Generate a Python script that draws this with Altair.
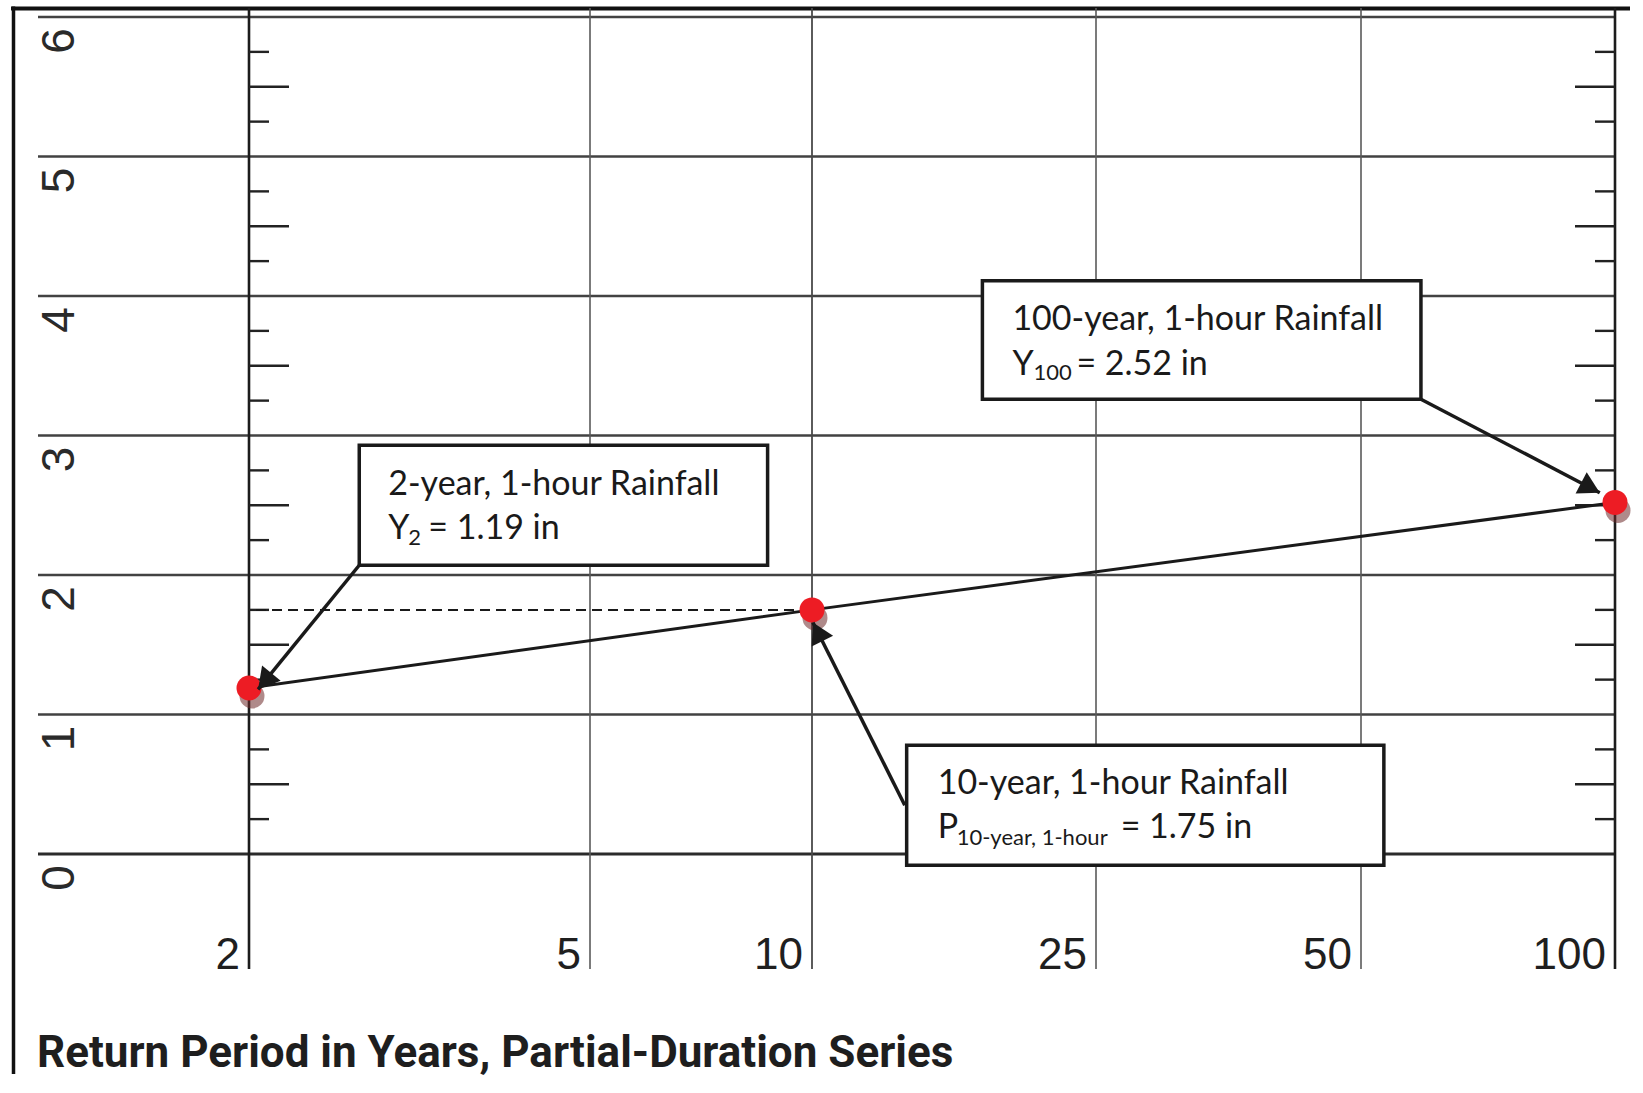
import math

import altair as alt
import numpy as np
import pandas as pd

# ---------------------------------------------------------------------------
# Data: 1-hour rainfall depth (in) for three return periods (years)
# ---------------------------------------------------------------------------
RETURN_PERIODS = [2, 10, 100]
RAINFALL_IN = [1.19, 1.75, 2.52]

# Grid of the partial-duration probability paper
GRID_PERIODS = [2, 5, 10, 25, 50, 100]
GRID_LABELS = ["2", "5", "10", "25", "50", "100"]
GRID_DEPTHS = [0, 1, 2, 3, 4, 5, 6]
DEPTH_LABELS = ["0", "1", "2", "3", "4", "5", "6"]
MINOR_SHORT = [u + f for u in range(6) for f in (0.25, 0.75)]
MINOR_LONG = [u + 0.5 for u in range(6)]

AXIS_TITLE = "Return Period in Years, Partial-Duration Series"

# ---------------------------------------------------------------------------
# Plot geometry: the return-period axis of the paper is non-uniform, so the
# x scale is piecewise linear through the printed grid lines.
# ---------------------------------------------------------------------------
W, H = 1577, 837
X_RANGE = [211, 552, 774, 1058, 1323, 1577]

xs = alt.Scale(type="linear", domain=GRID_PERIODS, range=X_RANGE, nice=False, zero=False)
ys = alt.Scale(type="linear", domain=[0, 6], range=[H, 0], nice=False, zero=False)


def X(field):
    return alt.X(field, type="quantitative", scale=xs, axis=None)


def Y(field):
    return alt.Y(field, type="quantitative", scale=ys, axis=None)


def to_px(t, p):
    return float(np.interp(t, GRID_PERIODS, X_RANGE)), H - p * H / 6.0


INK = "#1a1a1a"
LABEL_FONT = "Lato"
ONE = pd.DataFrame({"k": [0]})

# ---------------------------------------------------------------------------
# Callouts (box corners and arrow ends in data units)
# ---------------------------------------------------------------------------
CALLOUTS = [
    dict(x0=2.97, x1=9.0, y0=2.07, y1=2.93,
         title="2-year, 1-hour Rainfall", sym="Y", sub="2",
         value=f"= {RAINFALL_IN[0]:.2f} in",
         tail=(2.97, 2.07), tip=(2.08, 1.18),
         dx=(29, 49, 69), dy=(50, 94, 100)),
    dict(x0=19.0, x1=61.8, y0=3.26, y1=4.11,
         title="100-year, 1-hour Rainfall", sym="Y", sub="100",
         value=f"= {RAINFALL_IN[2]:.2f} in",
         tail=(61.8, 3.26), tip=(97.0, 2.59),
         dx=(30, 51, 94), dy=(49, 94, 99)),
    dict(x0=15.0, x1=54.5, y0=-0.08, y1=0.78,
         title="10-year, 1-hour Rainfall", sym="P", sub="10-year, 1-hour",
         value=f"= {RAINFALL_IN[1]:.2f} in",
         tail=(14.9, 0.35), tip=(10.05, 1.66),
         dx=(31, 50, 214), dy=(49, 93, 100)),
]

layers = []

# Page frame of the scanned sheet
layers.append(alt.Chart(ONE).mark_rule(color="#111111", strokeWidth=4).encode(
    x=alt.value(-27), x2=alt.value(1592), y=alt.value(-8.5)))
layers.append(alt.Chart(ONE).mark_rule(color="#111111", strokeWidth=3.5).encode(
    x=alt.value(-24.5), y=alt.value(-10.5), y2=alt.value(1057)))

# Horizontal grid (depth, inches)
hgrid = pd.DataFrame({
    "P": GRID_DEPTHS,
    "label": DEPTH_LABELS,
    "w": [3.0] + [2.4] * 6,
    "c": ["#2b2b2b"] + ["#424242"] * 6,
})
layers.append(alt.Chart(hgrid).mark_rule().encode(
    y=Y("P"), x=alt.value(0), x2=alt.value(W),
    strokeWidth=alt.StrokeWidth("w:Q", scale=None),
    color=alt.Color("c:N", scale=None)))

# Vertical grid (return period)
vgrid = pd.DataFrame({
    "T": GRID_PERIODS,
    "label": GRID_LABELS,
    "w": [2.6, 1.6, 1.8, 1.6, 1.6, 2.6],
    "c": ["#1c1c1c", "#5a5a5a", "#4a4a4a", "#5a5a5a", "#5a5a5a", "#1c1c1c"],
})
layers.append(alt.Chart(vgrid).mark_rule().encode(
    x=X("T"), y=alt.value(-9), y2=alt.value(952),
    strokeWidth=alt.StrokeWidth("w:Q", scale=None),
    color=alt.Color("c:N", scale=None)))

# Quarter-inch ticks on the 2-year and 100-year lines
for depths, length in ((MINOR_SHORT, 20), (MINOR_LONG, 40)):
    for period, sign in ((GRID_PERIODS[0], 1), (GRID_PERIODS[-1], -1)):
        tick_df = pd.DataFrame({"T": [period] * len(depths), "P": depths})
        layers.append(alt.Chart(tick_df).mark_rule(
            color="#222222", strokeWidth=2.4, x2Offset=sign * length).encode(
            x=X("T"), x2="T:Q", y=Y("P")))

# Tick labels
layers.append(alt.Chart(vgrid).mark_text(
    align="right", baseline="alphabetic", xOffset=-9,
    font="Liberation Sans", fontSize=44, color="#1f1f1f").encode(
    x=X("T"), y=alt.value(952), text="label:N"))
layers.append(alt.Chart(hgrid).mark_text(
    align="center", baseline="middle", angle=270, yOffset=24,
    font="Liberation Sans", fontSize=46, color="#2a2a2a").encode(
    x=alt.value(22), y=Y("P"), text="label:N"))

# Axis title
layers.append(alt.Chart(pd.DataFrame({"t": [AXIS_TITLE]})).mark_text(
    align="left", baseline="alphabetic",
    font="Roboto", fontSize=44, fontWeight="bold", color="#1e1e1e").encode(
    x=alt.value(-1), y=alt.value(1050), text="t:N"))

# Data: dashed read-off at 10 years, connecting line and points
pts = pd.DataFrame({"T": RETURN_PERIODS, "P": RAINFALL_IN})
guide = pd.DataFrame({"T": [RETURN_PERIODS[0]], "T2": [RETURN_PERIODS[1]], "P": [RAINFALL_IN[1]]})
layers.append(alt.Chart(guide).mark_rule(
    color=INK, strokeWidth=2, strokeDash=[10, 6], xOffset=7).encode(
    x=X("T"), x2="T2:Q", y=Y("P")))
layers.append(alt.Chart(pts).mark_circle(
    size=625, color="#6e2a2a", opacity=0.55, xOffset=3, yOffset=8).encode(
    x=X("T"), y=Y("P")))
layers.append(alt.Chart(pts).mark_line(color=INK, strokeWidth=3).encode(
    x=X("T"), y=Y("P")))
layers.append(alt.Chart(pts).mark_circle(size=625, color="#ed1c24", opacity=1).encode(
    x=X("T"), y=Y("P")))

# Callout boxes, arrows and text
boxes = pd.DataFrame([{k: c[k] for k in ("x0", "x1", "y0", "y1")} for c in CALLOUTS])
layers.append(alt.Chart(boxes).mark_rect(
    fill="white", stroke=INK, strokeWidth=3.5).encode(
    x=X("x0"), x2="x1:Q", y=Y("y1"), y2="y0:Q"))

arrows = []
for c in CALLOUTS:
    (tx, ty), (hx, hy) = c["tail"], c["tip"]
    ax, ay = to_px(tx, ty)
    bx, by = to_px(hx, hy)
    ang = math.degrees(math.atan2(bx - ax, -(by - ay))) % 360
    arrows.append({"tx": tx, "ty": ty, "hx": hx, "hy": hy, "ang": ang})
arrows = pd.DataFrame(arrows)
layers.append(alt.Chart(arrows).mark_rule(color=INK, strokeWidth=3.5).encode(
    x=X("tx"), y=Y("ty"), x2="hx:Q", y2="hy:Q"))
layers.append(alt.Chart(arrows).mark_point(
    shape="M0,0L1,1.75L-1,1.75Z", filled=True, size=576, color=INK,
    opacity=1, strokeWidth=0).encode(
    x=X("hx"), y=Y("hy"), angle=alt.Angle("ang:Q", scale=None)))

for c in CALLOUTS:
    row = pd.DataFrame({"x0": [c["x0"]], "y1": [c["y1"]], "title": [c["title"]],
                        "sym": [c["sym"]], "sub": [c["sub"]], "value": [c["value"]]})
    pieces = [
        ("title", c["dx"][0], c["dy"][0], 34),
        ("sym", c["dx"][0], c["dy"][1], 34),
        ("sub", c["dx"][1], c["dy"][2], 22),
        ("value", c["dx"][2], c["dy"][1], 34),
    ]
    for field, dx, dy, size in pieces:
        layers.append(alt.Chart(row).mark_text(
            align="left", baseline="alphabetic", dx=dx, dy=dy,
            font=LABEL_FONT, fontSize=size, color=INK).encode(
            x=X("x0"), y=Y("y1"), text=f"{field}:N"))

chart = alt.layer(*layers).properties(
    width=W, height=H,
    padding={"left": 38, "top": 17, "right": 28, "bottom": 239},
    autosize=alt.AutoSizeParams(type="none"),
    background="white",
).configure_view(stroke=None)

chart.save("out.html", embed_options={"renderer": "svg", "actions": False})
